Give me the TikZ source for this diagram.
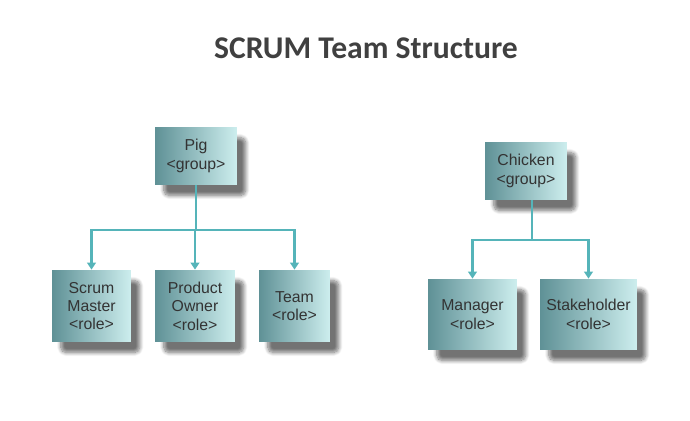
\documentclass[tikz,border=0pt]{standalone}
\usepackage{fontspec}
\setmainfont{Liberation Sans}
\newfontfamily\titlefont{Carlito}
\usetikzlibrary{shadows.blur,arrows.meta}
\definecolor{tealline}{RGB}{85,180,185}
\definecolor{boxdark}{RGB}{95,145,150}
\definecolor{boxlight}{RGB}{205,238,238}
\tikzset{
  rolebox/.style={rectangle, inner sep=0pt, align=center, left color=boxdark, right color=boxlight,
    blur shadow={shadow xshift=5pt, shadow yshift=-6pt, shadow blur steps=10, shadow blur extra rounding=3pt, shadow opacity=55},
    font=\fontsize{9}{10.5}\selectfont, text=black!80},
  conn/.style={draw=tealline, line width=1.6pt, -{Triangle[length=4pt,width=5pt]}},
  trunk/.style={draw=tealline, line width=1.6pt}
}
\begin{document}
\begin{tikzpicture}[x=0.02cm,y=-0.02cm]
\node[font=\titlefont\bfseries\fontsize{18}{20}\selectfont, text=black!75] (title) at (366,48) {SCRUM Team Structure};
\node[rolebox, minimum width=1.64cm, minimum height=1.16cm] (pig) at (196,156) {Pig\\<group>};
\node[rolebox, minimum width=1.58cm, minimum height=1.44cm] (sm) at (91.5,306) {Scrum\\Master\\<role>};
\node[rolebox, minimum width=1.6cm, minimum height=1.44cm] (po) at (195,306) {Product\\Owner\\<role>};
\node[rolebox, minimum width=1.42cm, minimum height=1.44cm] (team) at (294.5,306) {Team\\<role>};
\node[rolebox, minimum width=1.64cm, minimum height=1.16cm] (chk) at (526,171) {Chicken\\<group>};
\node[rolebox, minimum width=1.78cm, minimum height=1.42cm] (mgr) at (472.5,314.5) {Manager\\<role>};
\node[rolebox, minimum width=1.94cm, minimum height=1.42cm] (sh) at (588.5,314.5) {Stakeholder\\<role>};
\coordinate (pj) at (196,230);
\coordinate (cj) at (532,240);
\draw[trunk] (pig.south) -- (pj);
\draw[conn] (pj) -| (sm.north);
\draw[conn] (pj) -| (po.north);
\draw[conn] (pj) -| (team.north);
\draw[trunk] (chk.south -| cj) -- (cj);
\draw[conn] (cj) -| (mgr.north);
\draw[conn] (cj) -| (sh.north);
\pgfresetboundingbox
\useasboundingbox (0,0) rectangle (690,420);
\end{tikzpicture}
\end{document}
